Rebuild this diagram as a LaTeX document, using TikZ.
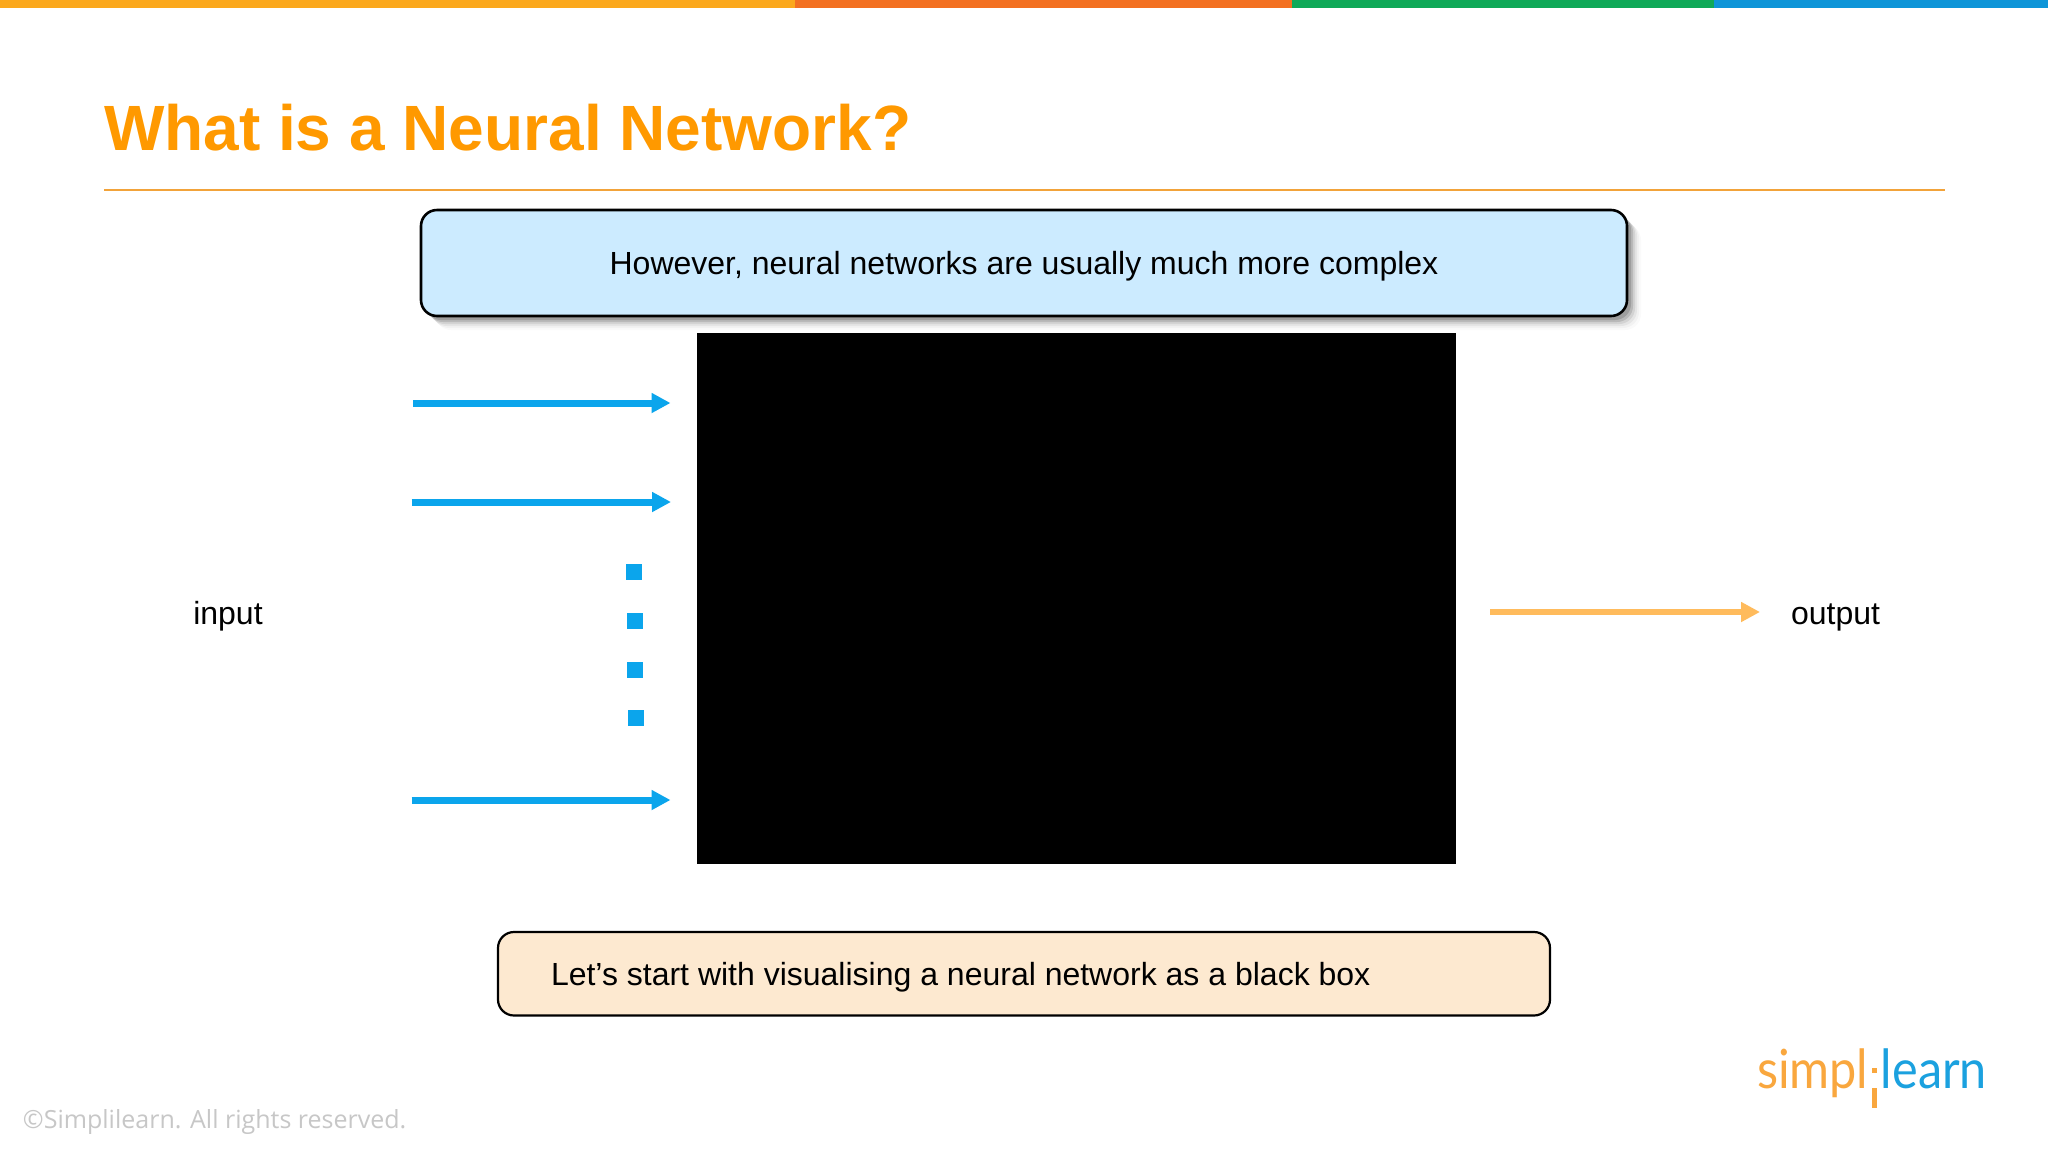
\documentclass[tikz,border=0pt]{standalone}
\usepackage{fontspec}
\setmainfont{Liberation Sans}
\newfontfamily\copyfont{Open Sans}
\newfontfamily\logofont[FakeStretch=0.9]{Lato}
\usetikzlibrary{arrows.meta}
\definecolor{barA}{HTML}{FBA81C}
\definecolor{barB}{HTML}{F37021}
\definecolor{barC}{HTML}{0FA958}
\definecolor{barD}{HTML}{0E95D8}
\definecolor{titleC}{HTML}{FF9900}
\definecolor{ruleC}{HTML}{F2A33A}
\definecolor{blueFill}{HTML}{CCEBFF}
\definecolor{peachFill}{HTML}{FDE9D0}
\definecolor{inArrow}{HTML}{0BA5EC}
\definecolor{outArrow}{HTML}{FFBB5C}
\definecolor{logoO}{HTML}{F9A73E}
\definecolor{logoB}{HTML}{1BA1DF}
\tikzset{
  x=1pt,y=-1pt,
  every node/.style={inner sep=0pt,outer sep=0pt},
  calloutbox/.style={draw=black,line width=2.6pt,rounded corners=16pt,minimum height=0pt},
  labeltext/.style={font=\fontsize{32}{38}\selectfont,text=black},
  flowin/.style={draw=inArrow,line width=7pt,-{Triangle[length=19pt,width=19pt]}},
  flowout/.style={draw=outArrow,line width=6.5pt,-{Triangle[length=19pt,width=19pt]}},
  dotmark/.style={fill=inArrow,minimum size=16pt},
}
\begin{document}
\begin{tikzpicture}
\useasboundingbox (0,0) rectangle (2048,1152);
\fill[white] (0,0) rectangle (2048,1152);
% top bar
\fill[barA] (0,0) rectangle (795,8);
\fill[barB] (795,0) rectangle (1292,8);
\fill[barC] (1292,0) rectangle (1714,8);
\fill[barD] (1714,0) rectangle (2048,8);
% title
\node[anchor=base west,text=titleC,font=\bfseries\fontsize{64}{70}\selectfont] (title) at (104,150) {What is a Neural Network?};
\draw[ruleC,line width=2.4pt] (104,190) -- (1945,190);
% shadow of upper box
\foreach \o/\a in {14/0.02,12/0.03,10/0.05,8/0.08,6/0.12,4/0.14}
  \fill[black,opacity=\a,rounded corners=16pt] (421+\o,210+\o) rectangle (1627+\o,316+\o);
% upper box
\draw[calloutbox,fill=blueFill] (421,210) rectangle (1627,316);
\node[labeltext,anchor=base] (upper) at (1024,274) {However, neural networks are usually much more complex};
% black box
\node[fill=black,anchor=north west,minimum width=759pt,minimum height=531pt] (bb) at (697,333) {};
% inputs
\coordinate (i1s) at (413,403); \coordinate (i1e) at (670.5,403);
\coordinate (i2s) at (411.5,502); \coordinate (i2e) at (671,502);
\coordinate (i3s) at (411.5,800); \coordinate (i3e) at (670.5,800);
\draw[flowin] (i1s) -- (i1e);
\draw[flowin] (i2s) -- (i2e);
\draw[flowin] (i3s) -- (i3e);
\node[dotmark] (d1) at (634,572) {};
\node[dotmark] (d2) at (635,621) {};
\node[dotmark] (d3) at (635,670) {};
\node[dotmark] (d4) at (636,718) {};
\node[labeltext,anchor=base] (input) at (228,624) {input};
% output
\coordinate (os) at (1490,612); \coordinate (oe) at (1760,612);
\draw[flowout] (os) -- (oe);
\node[labeltext,anchor=base] (output) at (1835.5,624) {output};
% lower box
\draw[calloutbox,fill=peachFill,line width=2.2pt] (498,932) rectangle (1550,1015.5);
\node[labeltext,anchor=base west] (lower) at (551,985) {Let’s start with visualising a neural network as a black box};
% footer
\node[anchor=base west,text=black!22,font=\copyfont\fontsize{25}{30}\selectfont] (copy) at (23,1128) {©Simplilearn. All rights reserved.};
% logo
\node[anchor=base west,text=logoO,font=\logofont\fontsize{54}{60}\selectfont] (lgA) at (1757,1088) {simpl};
\node[anchor=base east,text=logoB,font=\logofont\fontsize{54}{60}\selectfont] (lgB) at (1987,1088) {learn};
\fill[logoO] (1872,1068) rectangle (1877,1073);
\fill[logoO] (1872,1088) rectangle (1876.5,1108);
\end{tikzpicture}
\end{document}
